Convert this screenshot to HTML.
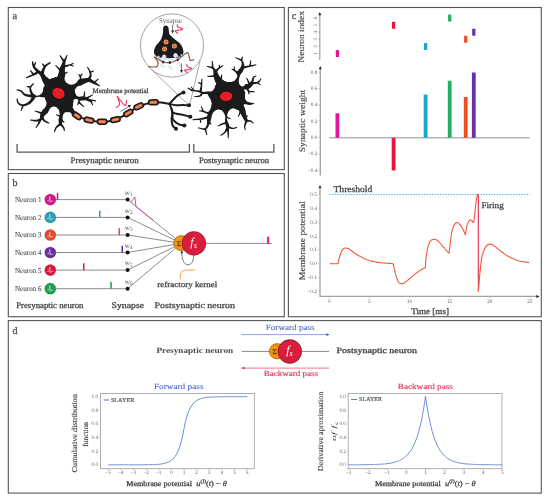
<!DOCTYPE html>
<html><head><meta charset="utf-8"><title>Spiking neuron figure</title>
<style>
html,body{margin:0;padding:0;background:#fff}
svg{display:block;font-family:"Liberation Serif",serif;filter:blur(0.35px);text-rendering:geometricPrecision}
</style></head><body>
<svg width="550" height="501" viewBox="0 0 550 501">
<rect width="550" height="501" fill="#fff"/>
<g id="pa"><rect x="8.3" y="7.5" width="276" height="162.1" fill="#fff" stroke="#555" stroke-width="1.1"/><text x="12.4" y="18.9" font-size="10.4" fill="#4a4a4a" stroke="#4a4a4a" stroke-width="0.28">a</text><path d="M152,70L189.2,105.6M200.2,60.5L189.9,104" stroke="#555" stroke-width="0.5" fill="none"/><path d="M72,111L72.4,111.5 73,112.2 73.7,113.1 74.6,114 75.6,114.9 76.9,115.7 78.5,116.5 80.4,117.3 82.4,118.1 84.6,118.9 86.8,119.5 89,120.1 91.1,120.6 93.3,121 95.5,121.3 97.7,121.5 99.9,121.7 102.1,121.7 104.3,121.6 106.5,121.4 108.8,121.2 111,120.8 113.2,120.3 115.4,119.6 117.6,118.8 119.8,117.7 122,116.6 124.2,115.4 126.3,114.2 128.3,113 130.1,111.9 131.8,110.7 133.4,109.5 135,108.4 136.7,107.4 138.7,106.4 141,105.5 143.5,104.7 146.1,103.9 148.7,103.2 151.2,102.7 153.4,102.3 155.3,102.1 157,102.1 158.6,102.2 160.1,102.4 161.6,102.6 163,102.8 164.5,103 166,103.3 167.5,103.5 168.8,103.8 170,104 170.8,104.2" fill="none" stroke="#1c1a1b" stroke-width="2"/><g transform="translate(76.9 115.7) rotate(35)"><rect x="-4.8" y="-2.45" width="9.6" height="4.9" rx="2.4" fill="#d2643a" stroke="#1c1a1b" stroke-width="1.5"/><rect x="-3.2" y="-0.7" width="6.4" height="1.4" rx="0.7" fill="#ee966c"/></g><g transform="translate(89 120.1) rotate(12)"><rect x="-4.8" y="-2.45" width="9.6" height="4.9" rx="2.4" fill="#d2643a" stroke="#1c1a1b" stroke-width="1.5"/><rect x="-3.2" y="-0.7" width="6.4" height="1.4" rx="0.7" fill="#ee966c"/></g><g transform="translate(102.1 121.7) rotate(0)"><rect x="-4.8" y="-2.45" width="9.6" height="4.9" rx="2.4" fill="#d2643a" stroke="#1c1a1b" stroke-width="1.5"/><rect x="-3.2" y="-0.7" width="6.4" height="1.4" rx="0.7" fill="#ee966c"/></g><g transform="translate(115.4 119.6) rotate(-12)"><rect x="-4.8" y="-2.45" width="9.6" height="4.9" rx="2.4" fill="#d2643a" stroke="#1c1a1b" stroke-width="1.5"/><rect x="-3.2" y="-0.7" width="6.4" height="1.4" rx="0.7" fill="#ee966c"/></g><g transform="translate(128.3 113) rotate(-30)"><rect x="-4.8" y="-2.45" width="9.6" height="4.9" rx="2.4" fill="#d2643a" stroke="#1c1a1b" stroke-width="1.5"/><rect x="-3.2" y="-0.7" width="6.4" height="1.4" rx="0.7" fill="#ee966c"/></g><g transform="translate(138.7 106.4) rotate(-25)"><rect x="-4.8" y="-2.45" width="9.6" height="4.9" rx="2.4" fill="#d2643a" stroke="#1c1a1b" stroke-width="1.5"/><rect x="-3.2" y="-0.7" width="6.4" height="1.4" rx="0.7" fill="#ee966c"/></g><g transform="translate(153.4 102.3) rotate(-2)"><rect x="-4.8" y="-2.45" width="9.6" height="4.9" rx="2.4" fill="#d2643a" stroke="#1c1a1b" stroke-width="1.5"/><rect x="-3.2" y="-0.7" width="6.4" height="1.4" rx="0.7" fill="#ee966c"/></g><path d="M169.5,103.8L169.8,103.5 170.2,103 170.7,102.4 171.3,101.8 171.9,101.2 172.5,100.5 173.2,99.8 173.9,99 174.7,98.2 175.5,97.4 176.2,96.7 177,96 177.7,95.4 178.5,94.9 179.2,94.5 180,94.1 180.6,93.7 181.2,93.4 181.7,93.1 182.2,92.9 182.6,92.8 183,92.7 183.3,92.6 183.5,92.5" fill="none" stroke="#1c1a1b" stroke-width="2" stroke-linecap="round"/><circle cx="183.5" cy="92.5" r="2" fill="#1c1a1b"/><path d="M170.4,104L171,104.1 171.8,104.4 172.8,104.6 173.9,104.9 174.9,105.1 176,105.2 177,105.3 178.1,105.3 179.2,105.2 180.3,105.2 181.4,105.1 182.5,105.1 183.7,105.1 184.9,105.2 186.2,105.2 187.3,105.2 188.3,105.3 189,105.3" fill="none" stroke="#1c1a1b" stroke-width="2" stroke-linecap="round"/><circle cx="189" cy="105.3" r="2" fill="#1c1a1b"/><path d="M169.5,104L169.7,104.6 170.1,105.3 170.4,106.3 170.8,107.2 171.2,108.2 171.6,109 171.8,109.7 172,110.4 172.1,111.1 172.3,111.7 172.7,112.3 173.4,112.8 174.5,113.2 175.9,113.6 177.6,113.9 179.3,114.2 181,114.5 182.5,114.8 184,115.1 185.5,115.5 187,115.9 188.3,116.2 189.5,116.5 190.3,116.7" fill="none" stroke="#1c1a1b" stroke-width="2" stroke-linecap="round"/><circle cx="190.3" cy="116.7" r="2" fill="#1c1a1b"/><path d="M171.6,109L171.7,109.7 171.8,110.6 172,111.7 172.1,112.9 172.3,114 172.4,115 172.5,115.8 172.5,116.6 172.4,117.4 172.5,118.1 172.6,118.8 173,119.5 173.6,120.3 174.3,121 175.1,121.8 176.1,122.6 177,123.2 178,123.8 179.1,124.3 180.3,124.7 181.5,125 182.7,125.2 183.7,125.4 184.4,125.6" fill="none" stroke="#1c1a1b" stroke-width="2" stroke-linecap="round"/><circle cx="184.4" cy="125.6" r="2" fill="#1c1a1b"/><path d="M172.4,115L172.3,115.5 172.1,116.1 171.9,116.9 171.7,117.7 171.6,118.6 171.6,119.5 171.7,120.5 171.8,121.6 171.9,122.8 172.2,123.9 172.5,124.9 172.8,125.8 173.3,126.5 173.8,127.1 174.5,127.6 175.1,128.1 175.6,128.4 176,128.7" fill="none" stroke="#1c1a1b" stroke-width="2" stroke-linecap="round"/><circle cx="176" cy="128.7" r="2" fill="#1c1a1b"/><path d="M51.7,78L52.4,77.6 53.1,77.4 53.8,77.2 54.5,77.1 55.2,77 56,77 56.9,77 57.8,77 58.7,77.1 59.7,77.2 60.6,77.3 61.5,77.5 62.3,77.7 63.1,77.8 63.8,78 64.5,78.2 65.2,78.5 66,79 66.8,79.7 67.7,80.5 68.7,81.4 69.5,82.4 70.3,83.2 71,84 71.5,84.6 71.9,85.1 72.2,85.5 72.4,85.9 72.7,86.4 73,87 73.4,87.7 73.9,88.6 74.3,89.4 74.8,90.3 75.1,91.2 75.3,92 75.3,92.7 75.3,93.4 75.1,94 74.9,94.6 74.7,95.3 74.5,96 74.3,96.8 74.2,97.6 74,98.5 73.8,99.3 73.6,100.2 73.5,101 73.4,101.8 73.3,102.6 73.3,103.4 73.2,104.3 73.1,105 73,105.8 72.8,106.6 72.6,107.3 72.4,108 72.1,108.7 71.8,109.4 71.4,110 70.9,110.5 70.3,111.1 69.7,111.5 69.1,111.9 68.5,112.3 68,112.5 67.6,112.6 67.3,112.7 67,112.7 66.7,112.6 66.4,112.5 66,112.4 65.5,112.3 65,112.1 64.5,112 63.9,111.8 63.3,111.5 62.6,111.3 61.9,111 61.1,110.8 60.3,110.5 59.5,110.2 58.7,109.8 58,109.5 57.3,109.1 56.6,108.6 56,108.1 55.3,107.6 54.7,107.3 54,107 53.3,106.9 52.6,107 51.9,107.1 51.2,107.3 50.5,107.4 50,107.5 49.6,107.5 49.3,107.5 49.1,107.5 48.9,107.4 48.7,107.2 48.4,106.9 48.1,106.4 47.7,105.8 47.3,105 46.9,104.2 46.5,103.3 46.2,102.5 45.9,101.6 45.6,100.7 45.3,99.7 45,98.7 44.8,97.8 44.5,97 44.2,96.3 43.9,95.7 43.6,95.2 43.4,94.7 43.2,94.1 43,93.5 42.9,92.8 42.8,92.1 42.8,91.3 42.8,90.5 42.9,89.7 43,89 43.2,88.3 43.5,87.6 43.9,86.9 44.3,86.2 44.6,85.6 45,85 45.3,84.5 45.6,84 45.8,83.5 46.1,83 46.5,82.5 47,82 47.6,81.4 48.4,80.6 49.2,79.9 50.1,79.1 50.9,78.5ZM49.2,90L48.7,89.4 47.8,88.7 46.8,87.6 45.6,86.3 44.4,84.8 43.5,83.2 42.6,81.4 41.9,79.7 41.3,78.2 40.9,77 40.5,76.3 40.3,75.9 40.2,75.6 40.2,75.5 40.1,75.3 43.5,72.9 43.6,73 43.8,73.1 44,73.4 44.4,73.7 44.9,74.4 45.8,75.3 46.9,76.6 48.1,77.9 49.2,79 50.2,79.8 51,80.3 52,80.7 53,81.2 54,81.6 54.8,82ZM56.1,81.5L56.3,80.9 56.6,79.9 56.9,78.8 57.2,77.6 57.5,76.5 57.8,75.3 58.2,74 58.5,72.6 58.9,71.2 59.3,69.7 59.8,68.3 60.4,66.8 61.1,65.4 61.6,64.2 62.1,63.2 62.4,62.5 62.7,61.9 62.8,61.5 63,61.3 63.1,61 65.5,61.8 65.5,62 65.5,62.3 65.4,62.7 65.4,63.2 65.3,64 65.2,65.1 65.1,66.5 65,67.9 64.9,69.4 64.9,70.7 65,71.9 65.1,73.2 65.2,74.5 65.4,75.8 65.5,77.1 65.6,78.4 65.6,79.7 65.7,80.8 65.8,81.8 65.9,82.5ZM50.8,96L49.9,96.2 48.8,96.4 47.3,96.7 45.8,97 44.1,97.3 42.2,97.6 40,97.9 37.9,98.1 36,98.4 34.7,98.5 33.5,94.5 34.7,93.9 36.4,93.1 38.3,92.1 40.1,91.1 41.7,90.3 43,89.5 44.3,88.7 45.5,88 46.5,87.4 47.2,87ZM56.5,105.4L55.8,106 54.7,106.8 53.5,107.7 52.3,108.6 51.3,109.4 50.5,110.1 49.7,110.8 49,111.5 48.2,112.3 47.5,113.1 46.7,113.8 45.9,114.5 45.2,115.1 44.7,115.6 44.3,116 44,116.5 43.8,117.1 43.6,117.8 43.5,118.6 43.4,119.1 40.2,118.9 40.2,118.4 40.1,117.7 40,116.7 40,115.6 40.3,114.4 40.7,113.2 41.2,112.2 41.8,111.3 42.3,110.4 42.7,109.5 43.2,108.6 43.7,107.7 44.2,106.7 44.8,105.6 45.5,104.4 46.3,103.2 47.3,101.8 48.2,100.5 48.9,99.4 49.5,98.6ZM66.8,104.3L66.8,105.2 66.8,106.4 66.7,108 66.6,109.8 66.4,111.6 65.9,113.3 65.3,114.8 64.6,116.1 64,117.3 63.5,118.3 63.1,119.6 62.7,121 62.3,122.5 62,123.7 61.8,124.6 59,124.4 58.9,123.5 58.7,122.2 58.6,120.7 58.5,119.1 58.5,117.5 58.6,115.9 58.7,114.4 58.9,113 58.9,111.9 58.8,111 58.6,110.1 58.2,108.9 57.8,107.7 57.4,106.5 57.2,105.7ZM62.6,87L63.3,86.5 64.3,85.8 65.7,84.9 67.3,83.9 69.1,83 70.9,82.2 72.9,81.4 75,80.6 77.1,79.9 79,79.4 80.8,78.9 82.7,78.5 84.5,78.2 86.2,78 87.8,77.9 89.2,78.1 90.4,78.5 91.3,79.1 92.1,79.7 93,80.3 94.4,81.3 96.1,82.5 97.7,83.8 99.2,84.9 100.2,85.7 99.8,86.5 98.6,86 96.9,85.2 95,84.4 93.1,83.7 91.6,83.1 90.4,82.6 89.6,82.3 89.1,82.1 88.7,82.1 88,82.3 87,82.5 85.8,83 84.4,83.7 82.9,84.4 81.4,85.2 79.8,86.1 78.2,87.2 76.5,88.3 75,89.4 73.7,90.4 72.7,91.4 71.8,92.4 70.9,93.4 70.1,94.3 69.4,95ZM67.9,90.5L68.7,90.8 70,91.2 71.4,91.7 73,92.3 74.5,92.9 75.9,93.5 77.3,94.2 78.6,94.8 79.7,95.4 80.7,95.9 81.6,96.2 82.5,96.3 83.6,96.5 84.9,96.7 86.2,97.1 87.5,97.7 88.8,98.6 90,99.4 90.9,100.1 91.6,100.6 90.8,102.2 90,101.9 88.8,101.4 87.6,100.9 86.3,100.5 85.2,100.3 84.4,100.3 83.5,100.4 82.4,100.5 81.2,100.6 79.7,100.5 78.2,100.3 76.7,100 75.3,99.6 73.9,99.3 72.7,99.1 71.4,99 69.8,98.8 68.4,98.7 67.1,98.6 66.1,98.5ZM68.4,100L69.1,101.2 70.1,103 71.3,105 72.4,106.9 73.3,108.5 74,109.7 74.6,110.7 75.1,111.6 75.5,112.2 75.8,112.7 73.2,114.9 72.8,114.5 72.2,114 71.4,113.4 70.5,112.7 69.5,111.9 68,110.8 66.2,109.5 64.4,108.1 62.8,106.8 61.6,106Z" fill="#1c1a1b"/><ellipse cx="51.1" cy="71.6" rx="7.5" ry="6.6" transform="rotate(0 51.1 71.6)" fill="#fff"/><ellipse cx="36.9" cy="88.9" rx="6.3" ry="6.9" transform="rotate(0 36.9 88.9)" fill="#fff"/><ellipse cx="39" cy="103.6" rx="7.5" ry="6.9" transform="rotate(0 39 103.6)" fill="#fff"/><ellipse cx="53.9" cy="114" rx="5.8" ry="7.5" transform="rotate(0 53.9 114)" fill="#fff"/><ellipse cx="66.5" cy="117.9" rx="4" ry="5.8" transform="rotate(0 66.5 117.9)" fill="#fff"/><ellipse cx="76.4" cy="104.2" rx="2.9" ry="5.1" transform="rotate(0 76.4 104.2)" fill="#fff"/><ellipse cx="79.4" cy="91.3" rx="4.3" ry="5.5" transform="rotate(0 79.4 91.3)" fill="#fff"/><ellipse cx="71.4" cy="78.4" rx="6.9" ry="6.3" transform="rotate(0 71.4 78.4)" fill="#fff"/><path d="M40.5,74.4L40.6,74 40.8,73.3 40.9,72.4 41.2,71.4 41.6,70.3 42,69.3 42.6,68.3 43.2,67.2 44,66.1 44.9,65.1 46,64.2 47.2,63.5 48.5,62.8 49.5,62.3 50.3,61.9 50.9,63.1 50.2,63.5 49.2,64.2 48.1,64.9 47.1,65.7 46.3,66.5 45.8,67.3 45.3,68.3 44.9,69.3 44.5,70.4 44.2,71.3 44.1,72 44,72.8 44,73.6 44.1,74.2 44.1,74.8ZM44.1,67.5L43,65.7 41.9,63.9 42.7,63.3 44.2,64.8 45.7,66.3ZM40.7,75.7L40.2,75.2 39.3,74.5 38.4,73.6 37.4,72.7 36.5,71.8 35.6,70.9 34.8,70 34,69 33.3,67.9 32.7,66.8 32.3,65.6 32.1,64.4 32,63.2 31.9,62.2 31.8,61.5 33.2,61.3 33.3,62 33.5,63 33.7,64 34.1,65.1 34.5,66 35,66.7 35.8,67.5 36.6,68.3 37.5,69.1 38.3,69.8 39.2,70.4 40.3,71.1 41.3,71.7 42.2,72.2 42.9,72.5ZM33,66.3L34.2,64.1 35.4,61.8 36.2,62.2 35.5,64.6 34.8,67.1ZM38.8,73.1L38.2,73.4 37.4,73.8 36.4,74.4 35.3,74.9 34.1,75.5 32.5,76.1 30.7,76.8 28.9,77.5 27.2,78 26.1,78.4 25.7,77.4 26.8,76.9 28.3,76.1 30.1,75.3 31.8,74.4 33.1,73.7 34.2,73 35.2,72.3 36,71.7 36.7,71.1 37.2,70.7ZM32.9,75.2L31.4,72.9 29.9,70.7 30.7,70.1 32.5,72.1 34.3,74ZM63.3,62.5L61.4,59 59.5,55.7 60.3,55.1 62.8,58.2 65.3,61.1ZM63.2,61.3L65,58 66.8,54.7 67.6,55.1 66.5,58.7 65.4,62.3ZM60.4,72.1L57.8,68.8 55.2,65.6 55.8,65 59,67.7 62.2,70.3ZM63.2,65.4L64.2,65.3 65.7,65 67.3,64.7 68.9,64.4 70.2,64.1 71.1,63.8 71.8,63.5 72.5,63.1 73,62.9 73.4,62.7 73.8,63.5 73.5,63.7 73,64.1 72.4,64.5 71.6,64.9 70.6,65.3 69.4,65.8 67.8,66.4 66.2,66.9 64.8,67.4 63.8,67.8ZM70.8,63.9L72.3,65 73.8,66 73.4,66.8 71.7,66.1 70,65.5ZM62.2,73.9L64.8,72.7 67.3,71.5 67.9,72.3 65.6,74.1 63.4,75.9ZM34.2,97.6L33.8,97.3 33.2,96.9 32.4,96.3 31.5,95.5 30.8,94.4 30.3,93.3 29.9,91.9 29.5,90.5 29.4,89 29.5,87.6 30,86.4 30.9,85.3 31.8,84.3 32.6,83.5 33.2,83 34,83.8 33.5,84.4 32.8,85.2 32,86.2 31.4,87.1 31.1,88 31.2,88.9 31.5,90 31.9,91.2 32.5,92.3 33,93.2 33.4,93.7 34,94.1 34.7,94.4 35.3,94.7 35.8,95ZM30.1,88.1L28.5,87.5 26.9,86.9 27.1,85.9 28.8,86.1 30.5,86.3ZM34.3,98.1L33,97.8 31.1,97.5 28.9,97 26.8,96.5 25,95.9 23.6,95 22.6,94 21.9,93 21.2,92.2 20.6,91.7 19.8,91.3 18.9,91 17.9,90.8 17.1,90.6 16.5,90.5 16.7,89.3 17.3,89.4 18.1,89.5 19.2,89.6 20.3,89.9 21.4,90.3 22.4,91 23.2,91.9 24,92.7 24.8,93.4 25.8,93.9 27.3,94.3 29.3,94.5 31.5,94.7 33.4,94.8 34.7,94.9ZM35.4,97.8L34.8,98.5 34,99.7 33,101 31.8,102.4 30.5,103.5 29.2,104.4 27.7,105.1 26.2,105.7 24.7,106.1 23.2,106.3 21.9,106.1 20.6,105.7 19.4,105.1 18.4,104.4 17.6,103.6 17.1,102.6 16.8,101.4 16.6,100.3 16.6,99.4 16.5,98.8 17.7,98.6 17.8,99.3 17.9,100.2 18.1,101.1 18.4,102 18.8,102.6 19.4,103.1 20.3,103.7 21.2,104.1 22.2,104.3 23.2,104.3 24.2,104.1 25.4,103.7 26.7,103 27.9,102.3 28.9,101.5 29.8,100.6 30.6,99.3 31.4,98 32.1,96.7 32.6,95.8ZM24.1,105.7L22.8,108.3 21.4,111 20.6,110.6 21.4,107.8 22.3,104.9ZM42.8,115L38.7,113.1 34.5,111.2 34.9,110.4 39.2,111.5 43.6,112.6ZM42.5,119.8L41.9,120.1 41.1,120.5 40.1,120.9 38.9,121.4 37.5,121.6 36,121.6 34.3,121.4 32.7,121.1 31.2,120.8 30.2,120.7 30.4,119.5 31.4,119.6 32.8,119.7 34.5,119.7 36.1,119.7 37.3,119.6 38.2,119.3 39.1,118.8 39.9,118.3 40.6,117.8 41.1,117.4ZM41.3,120.6L41,121 40.7,121.7 40.2,122.6 39.7,123.5 39.2,124.3 38.6,125.1 37.9,126 37.2,126.9 36.6,127.6 36.2,128.1 35.4,127.5 35.8,127 36.3,126.2 36.8,125.3 37.4,124.3 37.8,123.5 38.1,122.7 38.4,121.8 38.7,120.9 38.9,120.2 39.1,119.6ZM43.1,117.2L43.4,117.7 43.9,118.4 44.4,119.2 45,119.9 45.6,120.5 46.3,121.1 47.3,121.6 48.2,122.2 49.1,122.6 49.7,123 49.3,123.8 48.7,123.6 47.7,123.3 46.7,122.9 45.6,122.4 44.6,121.9 43.7,121.2 42.9,120.5 42.2,119.8 41.6,119.2 41.1,118.8ZM61.3,125.1L60.5,125.5 59.6,126.1 58.5,126.8 57.5,127.6 56.7,128.3 56.2,129 55.8,129.9 55.4,130.8 55.1,131.7 54.9,132.2 53.9,132 54.1,131.4 54.3,130.5 54.5,129.5 54.9,128.4 55.5,127.3 56.2,126.3 57.2,125.3 58.2,124.3 59,123.5 59.5,122.9ZM61.4,123.1L61.8,123.7 62.4,124.5 63.1,125.5 63.8,126.5 64.4,127.4 64.7,128.3 64.8,129.2 64.8,130 64.8,130.6 64.8,131.1 63.8,131.1 63.8,130.7 63.7,130.1 63.5,129.4 63.3,128.7 63,128.2 62.5,127.5 61.7,126.8 60.8,126 60,125.4 59.4,124.9ZM60.8,117.5L58.4,116.2 55.9,115 56.3,114.2 58.9,114.9 61.6,115.5ZM61.9,119.3L63.2,120.6 64.6,121.9 64,122.7 62.4,121.7 60.7,120.7ZM80,82.2L80,81.5 79.9,80.4 79.8,79.1 79.7,78 79.5,77 79.3,76.3 79,75.7 78.7,75.2 78.4,74.7 78.2,74.4 79,73.8 79.2,74.1 79.6,74.5 80,75.1 80.5,75.8 80.9,76.6 81.3,77.6 81.6,78.8 82,80 82.3,81 82.6,81.8ZM79.5,75.7L80.8,74.6 82,73.4 82.8,74 81.8,75.4 80.9,76.9ZM86.5,79.6L87.1,79 87.8,78.1 88.6,77.2 89.3,76.3 89.6,75.5 89.7,74.8 89.6,73.9 89.4,73 89.1,72 88.8,71.1 88.5,70.2 88.1,69.3 87.6,68.4 87.2,67.7 86.9,67.1 87.7,66.7 88,67.1 88.5,67.8 89.1,68.7 89.7,69.6 90.2,70.5 90.6,71.5 91,72.4 91.4,73.5 91.6,74.7 91.6,75.9 91.2,77.2 90.6,78.4 89.8,79.6 89.2,80.6 88.9,81.2ZM89.8,71.6L91.8,71 93.7,70.4 94.1,71.2 92.2,72.2 90.4,73.2ZM93.1,82.2L95.6,80.4 98,78.6 98.6,79.4 96.4,81.5 94.3,83.6ZM83,98.6L83.6,95.1 84.1,91.6 85.1,91.6 85.1,95.2 85.2,98.8ZM85.6,97.5L89.1,96 92.6,94.5 93,95.3 89.8,97.3 86.6,99.3ZM87.8,98.8L92,99.6 96.2,100.4 96,101.4 91.8,101 87.6,100.6ZM91.8,100.9L92.5,103 93.2,105.1 92.4,105.5 91.3,103.5 90.2,101.5ZM81,99.2L79.4,102.3 77.9,105.5 77.1,105.1 78,101.8 78.8,98.4ZM79.7,101.8L82,104.2 84.4,106.5 83.8,107.3 81.2,105.2 78.5,103.2Z" fill="#1c1a1b"/><ellipse cx="58.5" cy="93.3" rx="6.2" ry="5.2" transform="rotate(25 58.5 93.3)" fill="#e81c24"/><path d="M217,80L217.6,79.6 218.3,79.4 219.1,79.3 220,79.3 221,79.4 222,79.5 223.1,79.8 224.3,80.2 225.6,80.8 226.9,81.3 228.1,81.8 229.3,82 230.4,82 231.4,81.9 232.3,81.6 233.2,81.4 234.1,81.1 235,81 235.8,81 236.7,80.9 237.5,80.9 238.2,81 238.9,81.2 239.5,81.5 240,82 240.3,82.6 240.6,83.4 240.8,84.2 241.1,85.1 241.5,86 242,86.9 242.7,88 243.4,89 244,90.1 244.6,91.1 245,92 245.2,92.8 245.3,93.4 245.3,94 245.2,94.6 245.2,95.3 245.2,96 245.3,96.8 245.4,97.8 245.5,98.8 245.6,99.7 245.6,100.7 245.5,101.5 245.3,102.3 245,103 244.7,103.6 244.3,104.3 244,104.9 243.6,105.5 243.3,106.1 242.9,106.7 242.6,107.2 242.2,107.7 241.8,108.2 241.4,108.6 240.9,109 240.4,109.3 239.8,109.5 239.2,109.8 238.6,109.9 238,110 237.3,110 236.6,109.8 235.9,109.6 235.2,109.4 234.5,109.2 233.8,109.2 233.1,109.3 232.5,109.5 231.9,109.7 231.3,110 230.6,110.2 230,110.5 229.3,110.8 228.7,111.1 228,111.4 227.3,111.7 226.7,111.9 226,112 225.3,111.9 224.7,111.7 224,111.4 223.3,111.1 222.6,110.7 222,110.5 221.4,110.3 220.8,110.1 220.2,110 219.6,109.9 219,109.8 218.4,109.7 217.8,109.7 217.2,109.8 216.6,109.9 216,110 215.5,110 215,110 214.6,109.9 214.2,109.8 213.8,109.7 213.5,109.4 213.2,109.1 212.9,108.6 212.7,107.9 212.5,107.1 212.3,106.2 212.1,105.2 211.9,104.2 211.6,103.2 211.2,102.2 210.8,101.1 210.3,100 209.8,98.9 209.4,97.9 209,97 208.6,96.2 208.2,95.4 207.8,94.8 207.5,94.1 207.4,93.5 207.4,92.8 207.7,92.1 208.2,91.5 208.8,90.9 209.5,90.3 210.3,89.6 211,89 211.7,88.4 212.6,87.8 213.4,87.1 214.3,86.5 215,85.8 215.6,85.1 216,84.3 216.2,83.3 216.3,82.3 216.4,81.4 216.6,80.6ZM217.8,87.5L217.3,86.5 216.7,85 215.9,83.3 215.1,81.6 214.5,80 214.1,78.5 213.8,77.2 213.6,76 213.5,75 213.4,74.2 213.4,73.3 213.3,72.5 213.4,71.9 213.4,71.4 213.4,71 216.8,70.6 216.9,70.9 217.1,71.4 217.2,71.9 217.5,72.4 217.8,73 218.1,73.8 218.5,74.6 219,75.4 219.5,76.2 220.1,77 221,78 222.1,79.3 223.3,80.5 224.5,81.7 225.2,82.5ZM228.8,83.8L229.5,83.2 230.4,82.4 231.4,81.6 232.3,80.8 232.9,80.1 233.5,79.3 234.1,78 234.7,76.4 235.3,74.7 236.1,73 237,71.6 238,70.4 238.9,69.4 239.7,68.5 240.3,67.8 240.7,67.1 241.1,66.2 241.4,65.4 241.7,64.6 241.9,64 244.3,64.6 244.3,65.1 244.3,65.9 244.2,67 244,68.1 243.7,69.4 243.2,70.7 242.6,71.9 242.1,73 241.6,74.1 241.3,75.2 241.1,76.4 241,77.9 240.9,79.6 240.6,81.5 240.1,83.5 239.2,85.4 238.3,87 237.3,88.4 236.6,89.5 236.2,90.2ZM234,84.5L234.8,84.2 235.9,83.9 237.4,83.4 239,83 240.8,82.7 242.7,82.8 244.2,83.2 245.4,83.6 246.2,83.9 246.7,84 247.1,84.1 247.5,84.1 247.9,84 248.3,83.8 248.8,83.6 249.2,83.3 249.8,82.8 250.3,82.1 250.8,81.5 251.2,81.1 253.6,82.5 253.4,83 253.1,83.8 252.8,84.7 252.3,85.7 251.6,86.6 251,87.3 250.2,87.9 249.4,88.5 248.4,89 247.1,89.4 245.7,89.5 244.3,89.5 243.2,89.4 242.4,89.5 242,89.7 241.4,90.1 240.6,90.7 239.6,91.4 238.7,92 238,92.5ZM241.4,96.4L242.1,97 243.2,97.7 244.4,98.6 245.6,99.4 246.6,100.1 247.5,100.7 248.3,101.3 249.1,101.8 249.7,102.2 250.4,102.5 251.1,102.7 251.9,102.8 252.7,102.9 253.5,102.9 254,103 254.2,103.8 253.7,104 252.9,104.3 252.1,104.6 251.1,104.8 250,104.9 249,104.9 248,104.7 247,104.5 246,104.3 245,104.1 243.7,103.8 242.2,103.4 240.7,103.1 239.5,102.8 238.6,102.6ZM239.1,99.8L239.8,100.6 240.8,101.9 242,103.4 243.1,105 244.2,106.7 244.9,108.3 245.3,109.7 245.6,111 245.7,112.2 245.9,113.2 246.2,114.4 246.5,115.7 246.8,116.9 247.1,118 247.3,119 247.5,119.6 247.7,120.2 247.8,120.6 247.9,120.9 248,121.2 245.8,122.4 245.6,122.2 245.4,121.9 245.1,121.5 244.7,120.9 244.3,120.2 243.8,119.4 243.2,118.4 242.6,117.2 241.9,116.1 241.3,115 240.7,113.8 240.2,112.8 239.7,111.9 239.2,111.1 238.6,110.5 237.7,109.8 236.5,108.8 235.1,107.8 233.8,106.9 232.9,106.2ZM230.9,105L230.7,105.9 230.5,107.2 230.3,108.7 230.1,110.2 229.9,111.6 229.8,113 229.8,114.5 229.8,116 229.7,117.7 229.7,119.3 229.6,121.1 229.5,122.9 229.3,124.6 229.2,126.1 229.1,127.2 226.3,127.4 226,126.4 225.7,124.9 225.3,123.2 224.9,121.5 224.5,119.9 224.1,118.4 223.6,116.9 223.1,115.4 222.7,113.8 222.3,112.2 222,110.5 221.7,108.8 221.5,107.2 221.3,105.9 221.1,105ZM220.6,105.7L219.9,106.4 218.9,107.4 217.8,108.5 216.8,109.6 216,110.4 215.4,111.2 214.8,112 214.4,112.8 213.9,113.7 213.4,114.6 212.9,115.5 212.4,116.4 212,117.2 211.6,118.1 211.2,118.9 210.9,119.9 210.6,121.1 210.3,122.3 210.1,123.4 209.9,124.1 207.1,123.9 207,123.1 207,122 206.9,120.7 206.9,119.4 207,118.1 207.1,116.9 207.3,115.8 207.5,114.7 207.8,113.6 208,112.6 208.3,111.6 208.5,110.5 208.9,109.3 209.3,108.1 209.8,106.8 210.6,105.3 211.4,103.8 212.2,102.3 212.9,101.1 213.4,100.3Z" fill="#1c1a1b"/><ellipse cx="209.3" cy="84.5" rx="6" ry="7.5" transform="rotate(0 209.3 84.5)" fill="#fff"/><ellipse cx="229.3" cy="75.8" rx="8" ry="6.3" transform="rotate(0 229.3 75.8)" fill="#fff"/><ellipse cx="243.4" cy="78.8" rx="4.3" ry="7.8" transform="rotate(15 243.4 78.8)" fill="#fff"/><ellipse cx="248.8" cy="96.5" rx="3.8" ry="5.8" transform="rotate(0 248.8 96.5)" fill="#fff"/><ellipse cx="233.2" cy="117.4" rx="6.3" ry="9.2" transform="rotate(0 233.2 117.4)" fill="#fff"/><ellipse cx="218.4" cy="118" rx="6.9" ry="8.6" transform="rotate(0 218.4 118)" fill="#fff"/><ellipse cx="206.3" cy="104.3" rx="5.2" ry="8.1" transform="rotate(0 206.3 104.3)" fill="#fff"/><path d="M213.8,71.9L213.7,71.4 213.4,70.7 213.2,70 212.8,69.4 212.4,69 211.5,68.5 210.3,68 208.9,67.5 207.7,67.1 206.8,66.9 207,65.9 207.9,66.1 209.2,66.3 210.7,66.5 212.1,66.8 213.4,67.2 214.4,67.9 215.1,68.7 215.7,69.5 216.1,70.2 216.4,70.5ZM211.7,67.9L211.8,64.4 211.8,61 212.8,61 213.2,64.4 213.7,67.7ZM214.4,71.4L214.8,71 215.4,70.3 216.1,69.5 216.9,68.7 217.8,67.9 218.9,67.2 220.1,66.6 221.3,65.9 222.3,65.4 223.1,65 223.5,65.8 222.9,66.3 221.9,66.9 220.8,67.7 219.8,68.5 219,69.3 218.3,70 217.7,70.8 217.2,71.7 216.7,72.4 216.4,73ZM218.7,68.1L218.8,66.5 218.8,64.8 219.8,64.8 220,66.4 220.3,68.1ZM216.1,76.2L215.5,76.3 214.6,76.5 213.6,76.7 212.6,76.9 211.6,77 210.6,77 209.6,77 208.7,76.9 207.9,76.8 207.4,76.8 207.4,75.8 208,75.8 208.8,75.8 209.7,75.8 210.6,75.7 211.4,75.6 212.3,75.4 213.2,75.1 214.1,74.7 214.9,74.4 215.5,74.2ZM220,79.9L220.7,77.3 221.2,74.6 222.2,74.8 222.1,77.4 222.2,80.1ZM241.9,65.1L241.8,64.4 241.7,63.5 241.5,62.6 241.3,61.7 240.8,61 240,60.4 238.8,59.7 237.4,59.1 236.1,58.5 235.2,58.1 235.6,57.3 236.5,57.5 237.8,57.9 239.3,58.4 240.8,59 242,59.8 242.8,60.8 243.4,61.9 243.8,63 244.1,63.9 244.3,64.5ZM240.6,60.2L241.3,58.3 242,56.5 243,56.7 242.6,58.7 242.2,60.6ZM242,66.4L242.9,66.3 244.1,66.2 245.5,66 247,65.8 248.4,65.6 250,65.3 251.8,65 253.6,64.8 255.1,64.5 256.2,64.3 256.4,65.3 255.3,65.5 253.8,65.9 252.1,66.4 250.3,66.8 248.8,67.2 247.3,67.6 245.9,68 244.5,68.4 243.4,68.7 242.6,69ZM249.1,66.1L249.8,63.2 250.3,60.3 251.3,60.5 251,63.4 250.9,66.3ZM237.6,74.8L237.1,74.2 236.3,73.3 235.5,72.4 234.6,71.5 233.9,70.9 233.3,70.5 232.8,70.2 232.3,70 231.8,69.8 231.5,69.7 231.7,68.7 232.1,68.8 232.6,68.9 233.2,69.1 233.9,69.3 234.7,69.7 235.6,70.3 236.6,71.1 237.7,71.9 238.6,72.6 239.2,73ZM233.5,70.3L233.7,68.3 233.8,66.4 234.8,66.4 234.9,68.3 235.1,70.3ZM251.2,82L251.4,81.3 251.7,80.3 252,79.1 252.4,78 252.9,77 253.6,76.3 254.4,75.9 255.1,75.7 255.7,75.5 256.1,75.4 256.5,76.2 256.1,76.4 255.5,76.7 254.9,77 254.4,77.4 254.1,77.8 253.9,78.5 253.8,79.5 253.7,80.6 253.6,81.7 253.6,82.4ZM248.6,85.7L248.5,85 248.2,84 247.9,82.9 247.6,81.9 247.4,81 247.1,80.3 246.8,79.7 246.5,79.1 246.2,78.6 246,78.3 246.8,77.7 247,78.1 247.4,78.5 247.8,79.1 248.2,79.7 248.6,80.4 249.1,81.3 249.6,82.3 250,83.4 250.5,84.3 250.8,84.9ZM251.5,82.3L252.5,82.3 253.7,82.2 255.2,82.1 256.5,81.9 257.5,81.6 258.3,81.1 259.1,80.4 259.8,79.5 260.4,78.8 260.8,78.2 261.6,78.8 261.2,79.3 260.7,80.2 260.1,81.2 259.3,82.2 258.3,83 257,83.5 255.5,83.9 254,84.2 252.7,84.5 251.9,84.7ZM257.7,82L259.3,83.3 260.9,84.5 260.3,85.3 258.6,84.3 256.9,83.4ZM248.5,86.8L248.5,87.5 248.6,88.4 248.6,89.3 248.8,90 249.1,90.4 249.8,90.7 251,90.9 252.4,91.1 253.7,91.1 254.6,91.2 254.6,92.2 253.7,92.2 252.4,92.3 250.9,92.3 249.4,92.2 248.1,91.8 247.2,90.9 246.7,89.8 246.5,88.7 246.3,87.8 246.1,87.2ZM249.4,91L249.5,92.7 249.6,94.3 248.6,94.5 248.2,92.8 247.8,91.2ZM246.3,119.5L247,119.6 247.9,119.8 249,120 250.1,120.3 251.1,120.6 251.9,121.1 252.5,121.7 253.1,122.2 253.5,122.7 253.8,123 253.2,123.8 252.8,123.5 252.3,123 251.8,122.6 251.2,122.2 250.5,122 249.8,121.8 248.8,121.7 247.7,121.7 246.7,121.7 246.1,121.7ZM247.6,121.4L247.3,122.1 246.7,123.1 246.2,124.3 245.7,125.4 245.4,126.3 245.3,127.1 245.4,127.9 245.5,128.7 245.7,129.4 245.8,129.9 244.8,130.1 244.7,129.6 244.5,129 244.2,128.1 244,127.1 244,126.1 244.2,124.9 244.5,123.7 244.9,122.4 245.2,121.3 245.4,120.6ZM244.1,114.8L246.1,115.4 248.1,115.8 247.9,116.8 245.9,116.6 243.9,116.6ZM241.5,111.9L240,114.5 238.6,117.1 237.8,116.7 238.8,113.9 239.7,111.1ZM228.9,127.3L228.5,128 227.9,129.1 227.2,130.4 226.5,131.6 225.6,132.7 224.6,133.6 223.5,134.4 222.4,135 221.5,135.5 220.9,135.9 220.3,135.1 220.9,134.6 221.8,134 222.8,133.3 223.7,132.5 224.4,131.7 224.9,130.7 225.4,129.5 225.9,128.2 226.3,127.1 226.5,126.3ZM229,126.7L229,127.5 229,128.7 229,130.1 229,131.5 229,132.8 229,134 228.9,135.3 228.8,136.5 228.7,137.5 228.7,138.2 227.7,138.2 227.7,137.5 227.6,136.5 227.6,135.3 227.5,134 227.4,132.8 227.2,131.6 227,130.2 226.8,128.9 226.6,127.7 226.4,126.9ZM227.1,123.9L226.4,124 225.5,124.1 224.5,124.3 223.4,124.5 222.5,124.7 221.5,125 220.5,125.5 219.5,125.9 218.6,126.3 218,126.6 217.6,125.8 218.2,125.4 219,124.9 219.9,124.3 220.9,123.8 221.9,123.3 222.9,122.9 224,122.5 225.1,122.2 225.9,121.9 226.5,121.7ZM228,125.4L228.6,125.8 229.6,126.4 230.7,126.9 231.8,127.4 232.7,127.7 233.5,127.7 234.5,127.5 235.4,127.3 236.2,127 236.8,126.8 237.2,127.8 236.6,128 235.8,128.3 234.8,128.7 233.7,129 232.5,129.1 231.3,129 230,128.6 228.8,128.2 227.8,127.8 227,127.6ZM227.2,116.2L228.9,117.4 230.6,118.6 230.2,119.4 228.3,118.6 226.4,117.8ZM210.4,117.3L209.6,117.6 208.5,118 207.2,118.5 205.6,119 203.8,119.4 201.6,119.7 199.1,119.9 196.5,120 194.2,120.2 192.6,120.3 192.6,119.3 194.1,119.1 196.4,118.8 198.9,118.4 201.4,118 203.4,117.6 205,117.1 206.4,116.5 207.6,115.9 208.6,115.3 209.4,114.9ZM201.1,119.1L201.2,121 201.3,122.8 200.3,123 199.9,121.1 199.5,119.3ZM209.8,124.1L209.3,124.8 208.7,126 207.9,127.5 206.8,128.8 205.5,129.7 203.9,129.9 202.2,129.6 200.5,129.1 199,128.6 198,128.3 198.2,127.3 199.3,127.5 200.8,127.9 202.4,128.2 203.9,128.3 204.9,128.1 205.5,127.5 206.1,126.4 206.7,125.1 207.1,123.8 207.4,122.9ZM206.1,128.6L206.7,131.8 207.4,134.9 206.4,135.1 205.4,132.1 204.3,129.2ZM210.2,114.9L209.2,114.5 207.8,114.1 206.1,113.5 204.5,112.8 203.1,112 202.2,110.9 201.7,109.6 201.4,108.3 201.1,107.3 200.9,106.5 201.9,106.3 202.1,107 202.4,108 202.9,109.1 203.4,110.1 204.1,110.8 205.1,111.3 206.6,111.8 208.3,112.1 209.8,112.3 210.8,112.5ZM203.5,112.2L201.3,111.7 199.1,111.3 199.3,110.3 201.5,110.5 203.7,110.6ZM209.6,121.3L210.6,122.8 211.7,124.2 210.9,124.8 209.7,123.5 208.4,122.3ZM211.9,94.7L211.2,94.6 210.3,94.4 209.3,94.3 208.3,94.1 207.4,94 206.6,94 205.7,94 204.9,94 203.9,94 202.8,93.8 201.7,93.5 200.6,93.1 199.5,92.6 198.4,92.2 197.3,91.9 196.2,91.6 195,91.5 193.8,91.3 192.8,91.2 192.1,91.2 192.1,90 192.9,90.1 193.9,90.1 195.1,90.1 196.4,90.2 197.7,90.3 198.8,90.6 200,91 201.2,91.3 202.2,91.6 203.2,91.8 204,91.9 204.8,91.8 205.6,91.7 206.5,91.6 207.4,91.6 208.5,91.6 209.6,91.6 210.6,91.7 211.5,91.7 212.1,91.7ZM199,92.2L199.3,91.3 199.6,90.2 199.9,88.9 200.3,87.5 200.6,86.1 200.8,84.7 201,83 201.2,81.4 201.3,80.1 201.4,79.1 202.4,79.1 202.4,80.1 202.4,81.5 202.3,83.1 202.3,84.8 202.2,86.3 202.1,87.7 202,89.2 201.8,90.6 201.6,91.8 201.6,92.6ZM201,84.7L199.5,83.7 197.9,82.7 198.3,81.9 200,82.6 201.8,83.3ZM192,91.6L189.7,89.9 187.4,88.2 188,87.4 190.5,88.7 193,90ZM193.7,91.3L192.2,89.1 190.6,87 191.4,86.4 193.1,88.4 194.9,90.3ZM203.2,93.6L202.8,94 202.4,94.7 201.8,95.5 201,96.2 200,96.8 198.9,97.1 197.5,97.2 196.2,97.1 195.1,97.1 194.3,97.1 194.3,96.1 195.1,96.1 196.2,96 197.4,95.8 198.6,95.6 199.4,95.4 199.8,95 200.3,94.3 200.7,93.6 201,92.9 201.2,92.4Z" fill="#1c1a1b"/><ellipse cx="226.2" cy="96.4" rx="6.2" ry="4.6" transform="rotate(-5 226.2 96.4)" fill="#e81c24"/><text x="92.5" y="92.8" font-size="7" textLength="56" lengthAdjust="spacingAndGlyphs" fill="#444" stroke="#444" stroke-width="0.28">Membrane potential</text><path d="M116.3,107.5L116.6,107.3 116.9,107.1 117.4,106.8 117.8,106.5 118.3,106.1 118.6,105.8 118.9,105.5 119.1,105.2 119.3,104.8 119.5,104.5 119.6,104 119.6,103.5 119.5,102.9 119.3,102.1 119,101.3 118.7,100.5 118.4,99.7 118.2,99 118,98.4 117.7,97.7 117.4,97.1 117.2,96.6 117.1,96.3 117.1,96.2 117.3,96.4 117.6,96.8 118,97.4 118.5,98.1 119,98.8 119.6,99.5 120.2,100.3 121,101.2 121.7,102.1 122.5,103 123.2,103.8 123.8,104.4 124.3,104.8 124.6,105.2 124.9,105.4 125.2,105.5 125.4,105.6 125.6,105.5 125.8,105.3 125.9,104.9 126,104.5 126.1,104 126.1,103.5 126.2,103 126.3,102.6 126.4,102.1 126.4,101.6 126.5,101.2 126.6,100.9 126.6,100.6" fill="none" stroke="#f0305e" stroke-width="1.1" stroke-linejoin="round" stroke-linecap="round"/><path d="M120.6,111.5L128.6,106.7" stroke="#222" stroke-width="0.6"/><path d="M127.5,105.1H130.9L129.4,107.7Z" fill="#222"/><path d="M17.1,143.9V152.2H189.4V143.9M193.8,143.9V152.2H273.9V143.9" fill="none" stroke="#5a5a5a" stroke-width="1.3"/><text x="70.6" y="162.9" font-size="8.4" textLength="68" lengthAdjust="spacingAndGlyphs" fill="#444" stroke="#444" stroke-width="0.28">Presynaptic neuron</text><text x="198.9" y="162.9" font-size="8.4" textLength="70.2" lengthAdjust="spacingAndGlyphs" fill="#444" stroke="#444" stroke-width="0.28">Postsynaptic neuron</text><circle cx="172" cy="45.5" r="31.6" fill="#fff" stroke="#666" stroke-width="0.6"/><text x="158.9" y="23.4" font-size="7.4" textLength="23" lengthAdjust="spacingAndGlyphs" fill="#606060" stroke="none">Synapse</text><path d="M165.8,25.6L166.2,25.6 166.6,25.7 166.9,25.8 167.3,26 167.6,26.2 167.8,26.5 168,26.8 168.2,27.1 168.4,27.5 168.5,28 168.6,28.5 168.7,29.1 168.7,29.7 168.8,30.3 168.9,31 169,31.7 169.1,32.4 169.2,33.1 169.3,33.8 169.6,34.5 170,35.1 170.5,35.6 171.1,36.1 171.7,36.6 172.3,37.2 173,37.8 173.8,38.5 174.5,39.1 175.3,39.7 176,40.3 176.6,40.8 177.2,41.2 177.7,41.5 178.3,41.9 178.8,42.4 179.4,43 179.9,43.6 180.5,44.3 181,44.9 181.5,45.6 181.9,46.3 182.2,47 182.5,47.7 182.7,48.3 182.9,49 183.1,49.6 183.2,50.2 183.3,50.8 183.4,51.4 183.4,52 183.4,52.6 183.3,53.2 183.1,53.9 182.9,54.5 182.6,55 182.1,55.5 181.6,56 181,56.5 180.2,56.9 179.5,57.2 178.7,57.4 177.9,57.6 177,57.7 176,57.7 175,57.8 173.9,57.9 172.8,58 171.5,58.1 170.3,58.2 169,58.2 167.6,58.2 166.2,58.1 164.7,58 163.3,57.9 162,57.8 160.9,57.7 159.8,57.5 158.8,57.3 158,57.1 157.2,56.8 156.5,56.5 155.9,56 155.5,55.6 155,55.1 154.7,54.6 154.4,54 154.2,53.4 154.1,52.8 154,52.2 154,51.5 154,50.8 154.2,50.1 154.3,49.4 154.6,48.7 154.8,48 155.1,47.4 155.4,46.8 155.7,46.2 156.1,45.6 156.5,45 157,44.3 157.6,43.7 158.3,43 158.9,42.3 159.5,41.6 160,40.9 160.4,40.2 160.9,39.5 161.3,38.7 161.6,38 161.9,37.2 162.2,36.4 162.4,35.6 162.6,34.8 162.8,34 162.9,33.2 163,32.3 163,31.5 163.1,30.7 163.1,30 163.1,29.4 163.1,29 163.1,28.6 163.1,28.2 163.2,27.8 163.3,27.4 163.4,27.1 163.6,26.7 163.8,26.4 164,26.2 164.3,26 164.6,25.8 165,25.7 165.4,25.6Z" fill="#1c1a1b"/><circle cx="166" cy="42" r="2.5" fill="#f0a070"/><circle cx="166" cy="42" r="1.7" fill="#d8662e"/><circle cx="166" cy="42" r="0.7" fill="#b89080"/><circle cx="174.4" cy="46" r="2.5" fill="#f0a070"/><circle cx="174.4" cy="46" r="1.7" fill="#d8662e"/><circle cx="174.4" cy="46" r="0.7" fill="#b89080"/><circle cx="164.5" cy="49" r="2.5" fill="#f0a070"/><circle cx="164.5" cy="49" r="1.7" fill="#d8662e"/><circle cx="164.5" cy="49" r="0.7" fill="#b89080"/><circle cx="164.1" cy="56.6" r="1.9" fill="#eef3fa" stroke="#b8cde8" stroke-width="0.4"/><circle cx="175.5" cy="55.2" r="1.9" fill="#eef3fa" stroke="#b8cde8" stroke-width="0.4"/><circle cx="154.5" cy="55.5" r="0.9" fill="#dbe8f6" stroke="#a8c4e4" stroke-width="0.3"/><circle cx="156.5" cy="58" r="0.9" fill="#dbe8f6" stroke="#a8c4e4" stroke-width="0.3"/><circle cx="158.5" cy="56.6" r="0.9" fill="#dbe8f6" stroke="#a8c4e4" stroke-width="0.3"/><circle cx="160.8" cy="59.3" r="0.9" fill="#dbe8f6" stroke="#a8c4e4" stroke-width="0.3"/><circle cx="162.6" cy="57.4" r="0.9" fill="#dbe8f6" stroke="#a8c4e4" stroke-width="0.3"/><circle cx="164.6" cy="59.9" r="0.9" fill="#dbe8f6" stroke="#a8c4e4" stroke-width="0.3"/><circle cx="166.8" cy="58.6" r="0.9" fill="#dbe8f6" stroke="#a8c4e4" stroke-width="0.3"/><circle cx="168.8" cy="60.6" r="0.9" fill="#dbe8f6" stroke="#a8c4e4" stroke-width="0.3"/><circle cx="171" cy="59" r="0.9" fill="#dbe8f6" stroke="#a8c4e4" stroke-width="0.3"/><circle cx="173.3" cy="60.2" r="0.9" fill="#dbe8f6" stroke="#a8c4e4" stroke-width="0.3"/><circle cx="175.4" cy="58" r="0.9" fill="#dbe8f6" stroke="#a8c4e4" stroke-width="0.3"/><circle cx="177.4" cy="56.2" r="0.9" fill="#dbe8f6" stroke="#a8c4e4" stroke-width="0.3"/><circle cx="179.6" cy="57.6" r="0.9" fill="#dbe8f6" stroke="#a8c4e4" stroke-width="0.3"/><circle cx="181.6" cy="55.2" r="0.9" fill="#dbe8f6" stroke="#a8c4e4" stroke-width="0.3"/><circle cx="183.4" cy="56.4" r="0.9" fill="#dbe8f6" stroke="#a8c4e4" stroke-width="0.3"/><circle cx="161.5" cy="65.5" r="0.9" fill="#dbe8f6" stroke="#a8c4e4" stroke-width="0.3"/><circle cx="163.5" cy="67" r="0.9" fill="#dbe8f6" stroke="#a8c4e4" stroke-width="0.3"/><circle cx="169.5" cy="66.5" r="0.9" fill="#dbe8f6" stroke="#a8c4e4" stroke-width="0.3"/><circle cx="171.2" cy="68.5" r="0.9" fill="#dbe8f6" stroke="#a8c4e4" stroke-width="0.3"/><circle cx="178.5" cy="63.5" r="0.9" fill="#dbe8f6" stroke="#a8c4e4" stroke-width="0.3"/><circle cx="180" cy="65.5" r="0.9" fill="#dbe8f6" stroke="#a8c4e4" stroke-width="0.3"/><circle cx="157.6" cy="60.8" r="0.9" fill="#dbe8f6" stroke="#a8c4e4" stroke-width="0.3"/><circle cx="174.4" cy="55.9" r="0.9" fill="#dbe8f6" stroke="#a8c4e4" stroke-width="0.3"/><circle cx="165" cy="56.3" r="0.9" fill="#dbe8f6" stroke="#a8c4e4" stroke-width="0.3"/><path d="M148.4,66.6L148.9,66.7 149.6,66.7 150.4,66.8 151.3,66.9 152.2,67 153,67 153.8,67 154.6,67 155.4,66.9 156.2,66.8 156.8,66.6 157.3,66.2 157.6,65.7 157.9,65 158,64.3 158.1,63.4 158,62.6 157.8,61.8 157.4,60.9 156.7,60 155.9,59 155.2,58.1 154.6,57.4 154.4,57 154.5,56.9 154.9,57 155.4,57.3 156,57.7 156.8,58.2 157.5,58.6 158.3,59.1 159.1,59.6 160,60.2 161,60.9 162,61.4 163,61.8 164.1,62.1 165.2,62.4 166.4,62.6 167.6,62.7 168.8,62.7 170,62.6 171.3,62.3 172.6,62 174,61.5 175.4,60.9 176.6,60.3 177.7,59.8 178.6,59.3 179.3,58.7 180,58.1 180.6,57.5 181.3,56.9 182,56.3 182.9,55.6 183.8,54.9 184.8,54.1 185.8,53.4 186.6,52.9 187.3,52.7 187.8,52.8 188.2,53.3 188.4,53.9 188.6,54.6 188.8,55.3 189,56 189.2,56.7 189.3,57.5 189.5,58.4 189.6,59.2 189.9,59.9 190.2,60.3 190.7,60.5 191.4,60.4 192.1,60.2 192.8,60 193.4,59.7 193.8,59.6" fill="none" stroke="#8a5a3c" stroke-width="1.2" stroke-linecap="round"/><ellipse cx="163.1" cy="62" rx="1.1" ry="1.5" fill="#5a1030"/><ellipse cx="169.8" cy="62.6" rx="1.1" ry="1.5" fill="#5a1030"/><ellipse cx="177.7" cy="59.8" rx="1.1" ry="1.5" fill="#5a1030"/><path d="M172.6,24.7V31" stroke="#222" stroke-width="0.6"/><path d="M171.1,30.6H174.1L172.6,33.4Z" fill="#222"/><path d="M181.5,63.3V70.5" stroke="#222" stroke-width="0.6"/><path d="M180,70.1H183L181.5,72.9Z" fill="#222"/><path d="M177.4,24.7L177.4,24.9 177.3,25.2 177.2,25.6 177.2,26 177.4,26.4 177.7,26.8 178.3,27.2 179.3,27.6 180.4,28 181.4,28.4 182.2,28.8 182.6,29.1 182.5,29.4 182,29.6 181.3,29.7 180.5,29.9 179.7,30 179,30.2 178.3,30.3 177.5,30.4 176.7,30.5 176,30.6 175.5,30.8 175.2,31 175.3,31.3 175.7,31.7 176.2,32.2 176.8,32.6 177.4,33 177.7,33.3" fill="none" stroke="#f0305e" stroke-width="1.1" stroke-linejoin="round" stroke-linecap="round"/><path d="M186.9,64.4L186.9,64.6 186.8,64.9 186.8,65.3 186.8,65.7 186.9,66.1 187.2,66.5 187.8,66.9 188.7,67.2 189.7,67.6 190.7,68 191.5,68.3 191.8,68.6 191.7,68.8 191.2,69 190.5,69.2 189.7,69.3 188.9,69.5 188.2,69.6 187.5,69.7 186.8,69.8 186,69.9 185.3,70 184.8,70.1 184.6,70.3 184.7,70.6 185.1,71 185.7,71.4 186.3,71.9 186.8,72.2 187.2,72.5" fill="none" stroke="#f0305e" stroke-width="1.1" stroke-linejoin="round" stroke-linecap="round"/></g>
<g id="pb"><rect x="8.3" y="173.5" width="276" height="143.2" fill="#fff" stroke="#555" stroke-width="1.1"/><text x="12.4" y="185.8" font-size="10" fill="#4a4a4a" stroke="#4a4a4a" stroke-width="0.28">b</text><path d="M55.5,199.6H127.6L181.3,243.3" fill="none" stroke="#6e6e6e" stroke-width="0.8"/><path d="M55.5,217.4H127.6L181.3,243.3" fill="none" stroke="#6e6e6e" stroke-width="0.8"/><path d="M55.5,235H127.6L181.3,243.3" fill="none" stroke="#6e6e6e" stroke-width="0.8"/><path d="M55.5,252.5H127.6L181.3,243.3" fill="none" stroke="#6e6e6e" stroke-width="0.8"/><path d="M55.5,270.1H127.6L181.3,243.3" fill="none" stroke="#6e6e6e" stroke-width="0.8"/><path d="M55.5,288.7H127.6L181.3,243.3" fill="none" stroke="#6e6e6e" stroke-width="0.8"/><path d="M130.8,202.2L134.9,197L135.9,206.4L152.8,220.1" fill="none" stroke="#e030a0" stroke-width="0.9" stroke-linejoin="round"/><text x="15" y="202" font-size="7.5" textLength="26.6" lengthAdjust="spacingAndGlyphs" fill="#555" stroke="#555" stroke-width="0.12">Neuron 1</text><circle cx="50.3" cy="199.6" r="5.6" fill="#d6158a" stroke="#000" stroke-opacity="0.35" stroke-width="0.5"/><path d="M47.6,200.9h1.4l0.8,-4.4l0.6,5.8l0.8,-1.2h1.6" fill="none" stroke="#fff" stroke-opacity="0.8" stroke-width="0.6" stroke-linejoin="round" stroke-linecap="round"/><rect x="56.8" y="192.8" width="1.5" height="6.9" fill="#d6158a"/><circle cx="127.6" cy="199.6" r="2" fill="#111"/><text x="124.8" y="194.7" font-size="7.8" font-style="italic" fill="#5c5c5c" stroke="none">w<tspan font-size="5.2" dy="1.3" font-style="normal">1</tspan></text><text x="15" y="219.8" font-size="7.5" textLength="26.6" lengthAdjust="spacingAndGlyphs" fill="#555" stroke="#555" stroke-width="0.12">Neuron 2</text><circle cx="50.3" cy="217.4" r="5.6" fill="#2aa0b8" stroke="#000" stroke-opacity="0.35" stroke-width="0.5"/><path d="M47.6,218.7h1.4l0.8,-4.4l0.6,5.8l0.8,-1.2h1.6" fill="none" stroke="#fff" stroke-opacity="0.8" stroke-width="0.6" stroke-linejoin="round" stroke-linecap="round"/><rect x="99" y="210.6" width="1.5" height="6.9" fill="#2aa0b8"/><circle cx="127.6" cy="217.4" r="2" fill="#111"/><text x="124.8" y="212.5" font-size="7.8" font-style="italic" fill="#5c5c5c" stroke="none">w<tspan font-size="5.2" dy="1.3" font-style="normal">2</tspan></text><text x="15" y="237.4" font-size="7.5" textLength="26.6" lengthAdjust="spacingAndGlyphs" fill="#555" stroke="#555" stroke-width="0.12">Neuron 3</text><circle cx="50.3" cy="235" r="5.6" fill="#e8482a" stroke="#000" stroke-opacity="0.35" stroke-width="0.5"/><path d="M47.6,236.3h1.4l0.8,-4.4l0.6,5.8l0.8,-1.2h1.6" fill="none" stroke="#fff" stroke-opacity="0.8" stroke-width="0.6" stroke-linejoin="round" stroke-linecap="round"/><rect x="118.5" y="228.2" width="1.5" height="6.9" fill="#e8482a"/><circle cx="127.6" cy="235" r="2" fill="#111"/><text x="124.8" y="230.1" font-size="7.8" font-style="italic" fill="#5c5c5c" stroke="none">w<tspan font-size="5.2" dy="1.3" font-style="normal">3</tspan></text><text x="15" y="254.9" font-size="7.5" textLength="26.6" lengthAdjust="spacingAndGlyphs" fill="#555" stroke="#555" stroke-width="0.12">Neuron 4</text><circle cx="50.3" cy="252.5" r="5.6" fill="#6a2ca0" stroke="#000" stroke-opacity="0.35" stroke-width="0.5"/><path d="M47.6,253.8h1.4l0.8,-4.4l0.6,5.8l0.8,-1.2h1.6" fill="none" stroke="#fff" stroke-opacity="0.8" stroke-width="0.6" stroke-linejoin="round" stroke-linecap="round"/><rect x="121.5" y="245.7" width="1.5" height="6.9" fill="#6a2ca0"/><circle cx="127.6" cy="252.5" r="2" fill="#111"/><text x="124.8" y="247.6" font-size="7.8" font-style="italic" fill="#5c5c5c" stroke="none">w<tspan font-size="5.2" dy="1.3" font-style="normal">4</tspan></text><text x="15" y="272.5" font-size="7.5" textLength="26.6" lengthAdjust="spacingAndGlyphs" fill="#555" stroke="#555" stroke-width="0.12">Neuron 5</text><circle cx="50.3" cy="270.1" r="5.6" fill="#e0143c" stroke="#000" stroke-opacity="0.35" stroke-width="0.5"/><path d="M47.6,271.4h1.4l0.8,-4.4l0.6,5.8l0.8,-1.2h1.6" fill="none" stroke="#fff" stroke-opacity="0.8" stroke-width="0.6" stroke-linejoin="round" stroke-linecap="round"/><rect x="83" y="263.3" width="1.5" height="6.9" fill="#e0143c"/><circle cx="127.6" cy="270.1" r="2" fill="#111"/><text x="124.8" y="265.2" font-size="7.8" font-style="italic" fill="#5c5c5c" stroke="none">w<tspan font-size="5.2" dy="1.3" font-style="normal">5</tspan></text><text x="15" y="291.1" font-size="7.5" textLength="26.6" lengthAdjust="spacingAndGlyphs" fill="#555" stroke="#555" stroke-width="0.12">Neuron 6</text><circle cx="50.3" cy="288.7" r="5.6" fill="#18a050" stroke="#000" stroke-opacity="0.35" stroke-width="0.5"/><path d="M47.6,290h1.4l0.8,-4.4l0.6,5.8l0.8,-1.2h1.6" fill="none" stroke="#fff" stroke-opacity="0.8" stroke-width="0.6" stroke-linejoin="round" stroke-linecap="round"/><rect x="110.3" y="281.9" width="1.5" height="6.9" fill="#18a050"/><circle cx="127.6" cy="288.7" r="2" fill="#111"/><text x="124.8" y="283.8" font-size="7.8" font-style="italic" fill="#5c5c5c" stroke="none">w<tspan font-size="5.2" dy="1.3" font-style="normal">6</tspan></text><path d="M205,243.4H271.8" stroke="#6e6e6e" stroke-width="0.8"/><rect x="267.2" y="236.7" width="1.8" height="7" fill="#e0143c"/><path d="M193.6,254C194,259 192.5,264.8 188,264.8C183.5,264.8 182,259 181.8,252.6" fill="none" stroke="#222" stroke-width="0.6"/><path d="M181.8,250.2L180.5,253.2L183.1,253.2Z" fill="#222"/><circle cx="181.3" cy="243.2" r="7.6" fill="#f5920e" stroke="#6a3a08" stroke-width="0.5"/><text x="179" y="246.2" font-size="7.4" text-anchor="middle" fill="#6a400c" stroke="#6a400c" stroke-width="0.28">Σ</text><circle cx="193.9" cy="243.4" r="11.9" fill="#d81e3c" stroke="#5a0a18" stroke-width="0.5"/><text x="193.6" y="246" font-size="12" font-style="italic" text-anchor="middle" fill="#fff">f<tspan font-size="8.4" dy="1.8">s</tspan></text><path d="M180.1,279.4C180.3,275 180.5,272.4 182,271.2C183.6,270.2 187,270.1 195,269.9" fill="none" stroke="#f5a040" stroke-width="1"/><text x="157.3" y="286.9" font-size="7.8" textLength="60" lengthAdjust="spacingAndGlyphs" fill="#444" stroke="#444" stroke-width="0.28">refractory kernel</text><text x="16.2" y="307.6" font-size="8.6" textLength="67.3" lengthAdjust="spacingAndGlyphs" fill="#444" stroke="#444" stroke-width="0.28">Presynaptic neuron</text><text x="111.6" y="307.6" font-size="8.6" textLength="32.4" lengthAdjust="spacingAndGlyphs" fill="#444" stroke="#444" stroke-width="0.28">Synapse</text><text x="154.5" y="307.6" font-size="8.6" textLength="80.5" lengthAdjust="spacingAndGlyphs" fill="#444" stroke="#444" stroke-width="0.28">Postsynaptic neuron</text></g>
<g id="pc"><rect x="288.4" y="7.5" width="252.9" height="309.2" fill="#fff" stroke="#555" stroke-width="1.1"/><text x="291.8" y="18.8" font-size="10.4" fill="#4a4a4a" stroke="#4a4a4a" stroke-width="0.28">c</text><path d="M319.8,14V60" stroke="#a2a2a2" stroke-width="1.2"/><path d="M319.8,12l-1.5,3.2h3Z" fill="#222"/><path d="M318.4,53.5h1.4" stroke="#a2a2a2" stroke-width="0.6"/><text transform="translate(317.2 53.5) rotate(-90)" font-size="5" text-anchor="middle" fill="#5e5e5e" stroke="none">1</text><path d="M318.4,46.4h1.4" stroke="#a2a2a2" stroke-width="0.6"/><text transform="translate(317.2 46.4) rotate(-90)" font-size="5" text-anchor="middle" fill="#5e5e5e" stroke="none">2</text><path d="M318.4,39.3h1.4" stroke="#a2a2a2" stroke-width="0.6"/><text transform="translate(317.2 39.3) rotate(-90)" font-size="5" text-anchor="middle" fill="#5e5e5e" stroke="none">3</text><path d="M318.4,32.3h1.4" stroke="#a2a2a2" stroke-width="0.6"/><text transform="translate(317.2 32.3) rotate(-90)" font-size="5" text-anchor="middle" fill="#5e5e5e" stroke="none">4</text><path d="M318.4,25.2h1.4" stroke="#a2a2a2" stroke-width="0.6"/><text transform="translate(317.2 25.2) rotate(-90)" font-size="5" text-anchor="middle" fill="#5e5e5e" stroke="none">5</text><path d="M318.4,18.1h1.4" stroke="#a2a2a2" stroke-width="0.6"/><text transform="translate(317.2 18.1) rotate(-90)" font-size="5" text-anchor="middle" fill="#5e5e5e" stroke="none">6</text><text transform="translate(304.4 36.8) rotate(-90)" font-size="8.6" text-anchor="middle" textLength="51.5" lengthAdjust="spacingAndGlyphs" fill="#444" stroke="#444" stroke-width="0.14">Neuron index</text><rect x="335.8" y="50" width="3.2" height="7" rx="0.5" fill="#e6149a"/><rect x="424" y="42.9" width="3.2" height="7" rx="0.5" fill="#16a8c4"/><rect x="464.1" y="35.8" width="3.2" height="7" rx="0.5" fill="#f04a22"/><rect x="472.2" y="28.8" width="3.2" height="7" rx="0.5" fill="#6830a8"/><rect x="392" y="21.7" width="3.2" height="7" rx="0.5" fill="#e6143c"/><rect x="448.1" y="14.6" width="3.2" height="7" rx="0.5" fill="#20b060"/><path d="M320.3,68V175.5" stroke="#a2a2a2" stroke-width="1.3"/><path d="M320.3,66l-1.5,3.2h3Z" fill="#222"/><path d="M318.6,72.1h1.4" stroke="#a2a2a2" stroke-width="0.6"/><text x="317.4" y="73.6" font-size="5.4" text-anchor="end" fill="#5e5e5e" stroke="none">0.8</text><path d="M318.6,88.4h1.4" stroke="#a2a2a2" stroke-width="0.6"/><text x="317.4" y="89.9" font-size="5.4" text-anchor="end" fill="#5e5e5e" stroke="none">0.6</text><path d="M318.6,104.8h1.4" stroke="#a2a2a2" stroke-width="0.6"/><text x="317.4" y="106.3" font-size="5.4" text-anchor="end" fill="#5e5e5e" stroke="none">0.4</text><path d="M318.6,121.1h1.4" stroke="#a2a2a2" stroke-width="0.6"/><text x="317.4" y="122.6" font-size="5.4" text-anchor="end" fill="#5e5e5e" stroke="none">0.2</text><path d="M318.6,137.4h1.4" stroke="#a2a2a2" stroke-width="0.6"/><text x="317.4" y="138.9" font-size="5.4" text-anchor="end" fill="#5e5e5e" stroke="none">0.0</text><path d="M318.6,153.7h1.4" stroke="#a2a2a2" stroke-width="0.6"/><text x="317.4" y="155.2" font-size="5.4" text-anchor="end" fill="#5e5e5e" stroke="none">−0.2</text><path d="M318.6,170h1.4" stroke="#a2a2a2" stroke-width="0.6"/><text x="317.4" y="171.5" font-size="5.4" text-anchor="end" fill="#5e5e5e" stroke="none">−0.4</text><path d="M329.2,137.8H529.8" stroke="#777" stroke-width="0.8"/><rect x="335.5" y="113.3" width="3.8" height="24.5" fill="#e6149a"/><rect x="423.7" y="94.6" width="3.8" height="43.2" fill="#16a8c4"/><rect x="463.8" y="97" width="3.8" height="40.8" fill="#f04a22"/><rect x="471.9" y="72.5" width="3.8" height="65.3" fill="#6830a8"/><rect x="391.7" y="137.8" width="3.8" height="32.6" fill="#e6143c"/><rect x="447.8" y="80.7" width="3.8" height="57.1" fill="#20b060"/><text transform="translate(304.7 121) rotate(-90)" font-size="8.6" text-anchor="middle" textLength="62.5" lengthAdjust="spacingAndGlyphs" fill="#444" stroke="#444" stroke-width="0.14">Synaptic weight</text><path d="M320,187V296.4H537" fill="none" stroke="#a2a2a2" stroke-width="1.3"/><path d="M320,185l-1.5,3.2h3Z" fill="#222"/><path d="M539.6,296.4l-3.2,-1.5v3Z" fill="#222"/><path d="M318.3,194.4h1.4" stroke="#a2a2a2" stroke-width="0.6"/><text x="317" y="195.9" font-size="5.4" text-anchor="end" fill="#5e5e5e" stroke="none">0.5</text><path d="M318.3,208.3h1.4" stroke="#a2a2a2" stroke-width="0.6"/><text x="317" y="209.8" font-size="5.4" text-anchor="end" fill="#5e5e5e" stroke="none">0.4</text><path d="M318.3,222.1h1.4" stroke="#a2a2a2" stroke-width="0.6"/><text x="317" y="223.6" font-size="5.4" text-anchor="end" fill="#5e5e5e" stroke="none">0.3</text><path d="M318.3,236h1.4" stroke="#a2a2a2" stroke-width="0.6"/><text x="317" y="237.5" font-size="5.4" text-anchor="end" fill="#5e5e5e" stroke="none">0.2</text><path d="M318.3,249.8h1.4" stroke="#a2a2a2" stroke-width="0.6"/><text x="317" y="251.3" font-size="5.4" text-anchor="end" fill="#5e5e5e" stroke="none">0.1</text><path d="M318.3,263.7h1.4" stroke="#a2a2a2" stroke-width="0.6"/><text x="317" y="265.2" font-size="5.4" text-anchor="end" fill="#5e5e5e" stroke="none">0.0</text><path d="M318.3,277.6h1.4" stroke="#a2a2a2" stroke-width="0.6"/><text x="317" y="279.1" font-size="5.4" text-anchor="end" fill="#5e5e5e" stroke="none">−0.1</text><path d="M318.3,291.4h1.4" stroke="#a2a2a2" stroke-width="0.6"/><text x="317" y="292.9" font-size="5.4" text-anchor="end" fill="#5e5e5e" stroke="none">−0.2</text><path d="M329.3,296.4v1.6" stroke="#a2a2a2" stroke-width="0.6"/><text x="329.3" y="302.6" font-size="5.4" text-anchor="middle" fill="#5e5e5e" stroke="none">0</text><path d="M369.4,296.4v1.6" stroke="#a2a2a2" stroke-width="0.6"/><text x="369.4" y="302.6" font-size="5.4" text-anchor="middle" fill="#5e5e5e" stroke="none">5</text><path d="M409.5,296.4v1.6" stroke="#a2a2a2" stroke-width="0.6"/><text x="409.5" y="302.6" font-size="5.4" text-anchor="middle" fill="#5e5e5e" stroke="none">10</text><path d="M449.6,296.4v1.6" stroke="#a2a2a2" stroke-width="0.6"/><text x="449.6" y="302.6" font-size="5.4" text-anchor="middle" fill="#5e5e5e" stroke="none">15</text><path d="M489.7,296.4v1.6" stroke="#a2a2a2" stroke-width="0.6"/><text x="489.7" y="302.6" font-size="5.4" text-anchor="middle" fill="#5e5e5e" stroke="none">20</text><path d="M529.8,296.4v1.6" stroke="#a2a2a2" stroke-width="0.6"/><text x="529.8" y="302.6" font-size="5.4" text-anchor="middle" fill="#5e5e5e" stroke="none">25</text><path d="M329.3,194.4H529.8" stroke="#38bcdc" stroke-width="0.9" stroke-dasharray="1.6 1.1"/><path d="M329.9,263.6L330.8,263.6 332.2,263.7 333.7,263.7 335.3,263.7 336.6,263.7 337.6,263.6 338.1,263.4 338.3,263.2 338.3,263 338.2,262.7 338.2,262.4 338.2,262 338.3,261.6 338.4,261.3 338.5,260.8 338.6,260.4 338.8,259.8 339,259 339.3,258 339.7,256.8 340,255.5 340.5,254.1 340.9,252.9 341.3,251.9 341.7,251.1 342.1,250.5 342.5,249.9 342.9,249.4 343.3,249 343.7,248.7 344.1,248.4 344.5,248.2 344.8,248.1 345.2,248 345.6,248 346.1,248 346.6,248.1 347.1,248.2 347.7,248.4 348.3,248.7 348.9,249.1 349.7,249.5 350.5,250.1 351.5,250.7 352.5,251.5 353.5,252.3 354.6,253.1 355.7,253.8 356.8,254.5 358,255.2 359.2,255.9 360.5,256.6 361.7,257.2 362.9,257.8 364.1,258.4 365.2,258.9 366.4,259.4 367.5,259.8 368.8,260.3 370.1,260.7 371.6,261.1 373.1,261.4 374.8,261.8 376.4,262.1 378.1,262.4 379.7,262.6 381.3,262.8 383,263 384.7,263.1 386.3,263.2 387.8,263.3 389,263.4 390,263.5 390.9,263.5 391.6,263.6 392.2,263.6 392.6,263.7 393,263.7M393,263.7L393.1,264 393.2,264.5 393.4,265 393.6,265.7 393.8,266.5 394,267.4 394.3,268.6 394.6,269.9 394.9,271.5 395.3,273 395.6,274.5 396,275.8 396.4,277 396.8,278.1 397.2,279.2 397.6,280.2 398,281.1 398.4,281.8 398.8,282.4 399.3,282.9 399.7,283.2 400.2,283.4 400.7,283.6 401.2,283.7 401.7,283.7 402.3,283.7 402.8,283.5 403.4,283.3 404.1,282.9 404.8,282.5 405.6,281.9 406.6,281.2 407.6,280.4 408.6,279.5 409.7,278.6 410.8,277.7 411.9,276.7 413.1,275.7 414.3,274.7 415.5,273.6 416.8,272.6 418,271.7 419.3,270.9 420.7,270 422.1,269.3 423.5,268.6 424.6,268 425.4,267.6M425.4,267.6L425.5,266.4 425.6,264.7 425.7,262.7 425.8,260.6 426,258.5 426.2,256.6 426.4,254.9 426.7,253.2 426.9,251.5 427.2,250 427.6,248.5 427.9,247.1 428.2,245.9 428.6,244.7 429,243.6 429.4,242.7 429.8,241.8 430.3,241.1 430.8,240.5 431.5,240 432.1,239.7 432.8,239.4 433.4,239.2 434.1,239.2 434.8,239.3 435.4,239.4 436.1,239.7 436.8,240.1 437.5,240.5 438.2,241.1 438.9,241.8 439.7,242.6 440.5,243.5 441.3,244.5 442.1,245.6 443,246.6 444,247.7 445.1,249 446.3,250.3 447.4,251.5 448.3,252.6 449,253.3M449,253.3L449.1,252.8 449.2,252.2 449.3,251.5 449.4,250.6 449.5,249.5 449.7,248.3 449.9,246.8 450,245 450.2,243.1 450.5,241.1 450.7,239.2 450.9,237.5 451.1,235.9 451.4,234.4 451.6,233 451.9,231.6 452.2,230.3 452.5,229.1 452.9,228 453.2,227 453.6,226 454.1,225.1 454.5,224.4 454.9,223.8 455.3,223.3 455.7,223 456.1,222.8 456.5,222.6 456.9,222.6 457.3,222.6 457.7,222.7 458.1,222.8 458.5,223.1 458.8,223.4 459.3,223.8 459.7,224.3 460.2,224.9 460.7,225.6 461.2,226.4 461.8,227.3 462.3,228.2 462.8,229.1 463.3,230.1 463.8,231.2 464.3,232.3 464.7,233.4 465.1,234.3 465.4,235M465.4,235L465.5,234.4 465.6,233.5 465.7,232.4 465.9,231.3 466,230.1 466.2,229.1 466.4,228.1 466.6,227.2 466.8,226.2 467.1,225.3 467.3,224.4 467.6,223.6 467.9,222.9 468.3,222.2 468.7,221.5 469.1,221 469.4,220.5 469.8,220.2 470.1,220 470.5,220 470.8,220.1 471.1,220.3 471.4,220.5 471.7,220.7 472,221 472.4,221.4 472.7,221.8 473,222.2 473.3,222.6 473.5,222.8M473.5,222.8L473.6,222.1 473.8,221.2 474,220.1 474.2,218.8 474.4,217.4 474.6,215.9 474.8,214.2 475,212.2 475.2,210 475.4,207.9 475.6,205.8 475.8,204 476,202.3 476.3,200.7 476.5,199.1 476.8,197.7 477,196.5 477.2,195.6 477.4,195 477.6,194.6 477.8,194.5 478,194.4 478.1,194.4 478.2,194.4" fill="none" stroke="#f2583a" stroke-width="1.1" stroke-linejoin="round"/><path d="M478.3,194.4V291.4" stroke="#ea2450" stroke-width="1.1"/><path d="M478.4,291.4L478.4,290.8 478.5,290.2 478.6,289.3 478.7,288.2 478.8,287 478.9,285.4 479.1,283.5 479.2,281.2 479.4,278.7 479.6,276.1 479.9,273.5 480.1,271 480.4,268.5 480.6,266 480.9,263.4 481.3,260.9 481.6,258.6 482,256.6 482.4,254.8 482.9,253.2 483.4,251.8 483.9,250.5 484.4,249.3 484.9,248.3 485.4,247.4 485.9,246.6 486.3,246 486.8,245.5 487.3,245.1 487.8,244.7 488.3,244.4 488.8,244.2 489.3,244.1 489.8,244.1 490.4,244.1 490.9,244.2 491.4,244.3 491.9,244.5 492.4,244.8 493,245.1 493.7,245.5 494.5,246.1 495.5,246.9 496.6,247.8 497.8,248.8 499.1,249.9 500.4,251 501.6,251.9 502.8,252.8 503.9,253.6 505,254.4 506.2,255.1 507.5,255.9 508.8,256.6 510.2,257.3 511.8,258.1 513.4,258.8 515,259.5 516.7,260.2 518.4,260.7 520.3,261.2 522.3,261.6 524.4,261.9 526.4,262.2 528,262.4 529.2,262.6" fill="none" stroke="#f2583a" stroke-width="1.1" stroke-linejoin="round"/><text x="333.5" y="191.7" font-size="9" textLength="38.8" lengthAdjust="spacingAndGlyphs" fill="#444" stroke="#444" stroke-width="0.28">Threshold</text><text x="481.4" y="207.6" font-size="8.6" textLength="22.4" lengthAdjust="spacingAndGlyphs" fill="#444" stroke="#444" stroke-width="0.28">Firing</text><text x="411.2" y="313.6" font-size="8.5" textLength="37.8" lengthAdjust="spacingAndGlyphs" fill="#444" stroke="#444" stroke-width="0.28">Time [ms]</text><text transform="translate(305 240.8) rotate(-90)" font-size="8.6" text-anchor="middle" textLength="79" lengthAdjust="spacingAndGlyphs" fill="#444" stroke="#444" stroke-width="0.14">Membrane potential</text></g>
<g id="pd"><rect x="8.3" y="320.6" width="533" height="172.5" fill="#fff" stroke="#555" stroke-width="1.1"/><text x="12.4" y="333.8" font-size="10" fill="#4a4a4a" stroke="#4a4a4a" stroke-width="0.28">d</text><text x="265.7" y="329.5" font-size="8" textLength="49" lengthAdjust="spacingAndGlyphs" fill="#4f6fd4" stroke="#4f6fd4" stroke-width="0.12">Forward pass</text><path d="M241.6,334.6H327" stroke="#8ca2e6" stroke-width="1"/><path d="M329.6,334.6l-3.2,-1.4v2.8Z" fill="#3a58c8"/><path d="M241.6,351.4H329.2" stroke="#7a7a7a" stroke-width="0.9"/><circle cx="277" cy="351.3" r="7.7" fill="#f5920e" stroke="#6a3a08" stroke-width="0.5"/><text x="274.7" y="354.4" font-size="7.5" text-anchor="middle" fill="#6a400c" stroke="#6a400c" stroke-width="0.28">Σ</text><circle cx="289.8" cy="351.5" r="11.9" fill="#d81e3c" stroke="#5a0a18" stroke-width="0.5"/><text x="289.5" y="354.1" font-size="12" font-style="italic" text-anchor="middle" fill="#fff">f<tspan font-size="8.4" dy="1.8">s</tspan></text><path d="M244,368.1H329.2" stroke="#f590a6" stroke-width="1.1"/><path d="M241.2,368.1l3.2,-1.4v2.8Z" fill="#e8204a"/><text x="263.8" y="376.1" font-size="8" textLength="54.2" lengthAdjust="spacingAndGlyphs" fill="#ea2c54" stroke="#ea2c54" stroke-width="0.12">Backward pass</text><text x="156.4" y="353" font-size="8.1" font-weight="bold" textLength="76.8" lengthAdjust="spacingAndGlyphs" fill="#4a4a4a" stroke="none">Presynaptic neuron</text><text x="336.6" y="353" font-size="8.1" textLength="80.4" lengthAdjust="spacingAndGlyphs" fill="#3a3a3a" stroke="#3a3a3a" stroke-width="0.28">Postsynaptic neuron</text><rect x="100.4" y="393.4" width="153.9" height="75.3" fill="none" stroke="#9c9c9c" stroke-width="0.8"/><path d="M99.7,464.8h1" stroke="#9c9c9c" stroke-width="0.5"/><text x="98.2" y="466.3" font-size="5.3" text-anchor="end" fill="#646464" stroke="none">0.0</text><path d="M99.7,451.2h1" stroke="#9c9c9c" stroke-width="0.5"/><text x="98.2" y="452.7" font-size="5.3" text-anchor="end" fill="#646464" stroke="none">0.2</text><path d="M99.7,437.6h1" stroke="#9c9c9c" stroke-width="0.5"/><text x="98.2" y="439.1" font-size="5.3" text-anchor="end" fill="#646464" stroke="none">0.4</text><path d="M99.7,423.9h1" stroke="#9c9c9c" stroke-width="0.5"/><text x="98.2" y="425.4" font-size="5.3" text-anchor="end" fill="#646464" stroke="none">0.6</text><path d="M99.7,410.3h1" stroke="#9c9c9c" stroke-width="0.5"/><text x="98.2" y="411.8" font-size="5.3" text-anchor="end" fill="#646464" stroke="none">0.8</text><path d="M99.7,396.7h1" stroke="#9c9c9c" stroke-width="0.5"/><text x="98.2" y="398.2" font-size="5.3" text-anchor="end" fill="#646464" stroke="none">1.0</text><path d="M108.1,468.7v1.2" stroke="#9c9c9c" stroke-width="0.5"/><text x="108.1" y="474.2" font-size="5.3" text-anchor="middle" fill="#646464" stroke="none">−5</text><path d="M120.7,468.7v1.2" stroke="#9c9c9c" stroke-width="0.5"/><text x="120.7" y="474.2" font-size="5.3" text-anchor="middle" fill="#646464" stroke="none">−4</text><path d="M133.4,468.7v1.2" stroke="#9c9c9c" stroke-width="0.5"/><text x="133.4" y="474.2" font-size="5.3" text-anchor="middle" fill="#646464" stroke="none">−3</text><path d="M146,468.7v1.2" stroke="#9c9c9c" stroke-width="0.5"/><text x="146" y="474.2" font-size="5.3" text-anchor="middle" fill="#646464" stroke="none">−2</text><path d="M158.7,468.7v1.2" stroke="#9c9c9c" stroke-width="0.5"/><text x="158.7" y="474.2" font-size="5.3" text-anchor="middle" fill="#646464" stroke="none">−1</text><path d="M171.3,468.7v1.2" stroke="#9c9c9c" stroke-width="0.5"/><text x="171.3" y="474.2" font-size="5.3" text-anchor="middle" fill="#646464" stroke="none">0</text><path d="M184,468.7v1.2" stroke="#9c9c9c" stroke-width="0.5"/><text x="184" y="474.2" font-size="5.3" text-anchor="middle" fill="#646464" stroke="none">1</text><path d="M196.6,468.7v1.2" stroke="#9c9c9c" stroke-width="0.5"/><text x="196.6" y="474.2" font-size="5.3" text-anchor="middle" fill="#646464" stroke="none">2</text><path d="M209.2,468.7v1.2" stroke="#9c9c9c" stroke-width="0.5"/><text x="209.2" y="474.2" font-size="5.3" text-anchor="middle" fill="#646464" stroke="none">3</text><path d="M221.9,468.7v1.2" stroke="#9c9c9c" stroke-width="0.5"/><text x="221.9" y="474.2" font-size="5.3" text-anchor="middle" fill="#646464" stroke="none">4</text><path d="M234.6,468.7v1.2" stroke="#9c9c9c" stroke-width="0.5"/><text x="234.6" y="474.2" font-size="5.3" text-anchor="middle" fill="#646464" stroke="none">5</text><path d="M247.2,468.7v1.2" stroke="#9c9c9c" stroke-width="0.5"/><text x="247.2" y="474.2" font-size="5.3" text-anchor="middle" fill="#646464" stroke="none">6</text><path d="M108.1,464.8L109.3,464.8 110.6,464.8 111.8,464.8 113.1,464.8 114.4,464.8 115.6,464.8 116.9,464.8 118.2,464.8 119.4,464.8 120.7,464.8 122,464.8 123.2,464.8 124.5,464.8 125.8,464.8 127,464.8 128.3,464.8 129.6,464.8 130.8,464.8 132.1,464.8 133.4,464.8 134.6,464.8 135.9,464.8 137.1,464.8 138.4,464.8 139.7,464.8 140.9,464.8 142.2,464.8 143.5,464.8 144.7,464.7 146,464.7 147.3,464.7 148.5,464.7 149.8,464.7 151.1,464.6 152.3,464.6 153.6,464.6 154.9,464.5 156.1,464.4 157.4,464.4 158.7,464.3 159.9,464.1 161.2,464 162.4,463.8 163.7,463.5 165,463.2 166.2,462.9 167.5,462.4 168.8,461.9 170,461.2 171.3,460.4 172.6,459.3 173.8,458 175.1,456.5 176.4,454.5 177.6,452.1 178.9,449.1 180.2,445.5 181.4,441 182.7,435.4 184,428.7 185.2,422.6 186.5,417.7 187.7,413.7 189,410.5 190.3,407.9 191.5,405.8 192.8,404.1 194.1,402.7 195.3,401.5 196.6,400.6 197.9,399.9 199.1,399.3 200.4,398.8 201.7,398.4 202.9,398.1 204.2,397.8 205.5,397.6 206.7,397.4 208,397.3 209.2,397.2 210.5,397.1 211.8,397 213,397 214.3,396.9 215.6,396.9 216.8,396.8 218.1,396.8 219.4,396.8 220.6,396.8 221.9,396.8 223.2,396.7 224.4,396.7 225.7,396.7 227,396.7 228.2,396.7 229.5,396.7 230.8,396.7 232,396.7 233.3,396.7 234.6,396.7 235.8,396.7 237.1,396.7 238.3,396.7 239.6,396.7 240.9,396.7 242.1,396.7 243.4,396.7 244.7,396.7 245.9,396.7 247.2,396.7" fill="none" stroke="#5b7fd6" stroke-width="0.9"/><path d="M103.6,400H109.2" stroke="#5b7fd6" stroke-width="1.1"/><text x="110.9" y="401.9" font-size="6" textLength="23.4" lengthAdjust="spacingAndGlyphs" fill="#555" stroke="#555" stroke-width="0.18">SLAYER</text><text x="153.9" y="388.9" font-size="8" textLength="49.6" lengthAdjust="spacingAndGlyphs" fill="#4f6fd4" stroke="#4f6fd4" stroke-width="0.12">Forward pass</text><text transform="translate(76.8 433.2) rotate(-90)" font-size="7.5" text-anchor="middle" textLength="78.6" lengthAdjust="spacingAndGlyphs" fill="#444" stroke="#444" stroke-width="0.14">Cumulative distribution</text><text transform="translate(88.2 434.3) rotate(-90)" font-size="7.5" text-anchor="middle" textLength="24.7" lengthAdjust="spacingAndGlyphs" fill="#444" stroke="#444" stroke-width="0.14">function</text><text x="126.2" y="485.8" font-size="7.3" fill="#444" textLength="65.8" lengthAdjust="spacingAndGlyphs" stroke="#444" stroke-width="0.28">Membrane potential</text><text x="196.3" y="485.8" font-size="7.6" fill="#444" textLength="30.6" lengthAdjust="spacingAndGlyphs" stroke="#444" stroke-width="0.28"><tspan font-style="italic">u</tspan><tspan font-size="5.2" dy="-3">(<tspan font-style="italic">l</tspan>)</tspan><tspan dy="3">(<tspan font-style="italic">t</tspan>) − <tspan font-style="italic">θ</tspan></tspan></text><rect x="348.2" y="393.4" width="153.7" height="75.3" fill="none" stroke="#9c9c9c" stroke-width="0.8"/><path d="M347.7,464.8h1" stroke="#9c9c9c" stroke-width="0.5"/><text x="346" y="466.3" font-size="5.3" text-anchor="end" fill="#646464" stroke="none">0.0</text><path d="M347.7,451.1h1" stroke="#9c9c9c" stroke-width="0.5"/><text x="346" y="452.6" font-size="5.3" text-anchor="end" fill="#646464" stroke="none">0.2</text><path d="M347.7,437.4h1" stroke="#9c9c9c" stroke-width="0.5"/><text x="346" y="438.9" font-size="5.3" text-anchor="end" fill="#646464" stroke="none">0.4</text><path d="M347.7,423.7h1" stroke="#9c9c9c" stroke-width="0.5"/><text x="346" y="425.2" font-size="5.3" text-anchor="end" fill="#646464" stroke="none">0.6</text><path d="M347.7,410h1" stroke="#9c9c9c" stroke-width="0.5"/><text x="346" y="411.5" font-size="5.3" text-anchor="end" fill="#646464" stroke="none">0.8</text><path d="M347.7,396.3h1" stroke="#9c9c9c" stroke-width="0.5"/><text x="346" y="397.8" font-size="5.3" text-anchor="end" fill="#646464" stroke="none">1.0</text><path d="M348.7,468.7v1.2" stroke="#9c9c9c" stroke-width="0.5"/><text x="348.7" y="474.2" font-size="5.3" text-anchor="middle" fill="#646464" stroke="none">−3</text><path d="M367.9,468.7v1.2" stroke="#9c9c9c" stroke-width="0.5"/><text x="367.9" y="474.2" font-size="5.3" text-anchor="middle" fill="#646464" stroke="none">−2</text><path d="M387.1,468.7v1.2" stroke="#9c9c9c" stroke-width="0.5"/><text x="387.1" y="474.2" font-size="5.3" text-anchor="middle" fill="#646464" stroke="none">−1</text><path d="M406.3,468.7v1.2" stroke="#9c9c9c" stroke-width="0.5"/><text x="406.3" y="474.2" font-size="5.3" text-anchor="middle" fill="#646464" stroke="none">0</text><path d="M425.5,468.7v1.2" stroke="#9c9c9c" stroke-width="0.5"/><text x="425.5" y="474.2" font-size="5.3" text-anchor="middle" fill="#646464" stroke="none">1</text><path d="M444.7,468.7v1.2" stroke="#9c9c9c" stroke-width="0.5"/><text x="444.7" y="474.2" font-size="5.3" text-anchor="middle" fill="#646464" stroke="none">2</text><path d="M463.9,468.7v1.2" stroke="#9c9c9c" stroke-width="0.5"/><text x="463.9" y="474.2" font-size="5.3" text-anchor="middle" fill="#646464" stroke="none">3</text><path d="M483.1,468.7v1.2" stroke="#9c9c9c" stroke-width="0.5"/><text x="483.1" y="474.2" font-size="5.3" text-anchor="middle" fill="#646464" stroke="none">4</text><path d="M502.3,468.7v1.2" stroke="#9c9c9c" stroke-width="0.5"/><text x="502.3" y="474.2" font-size="5.3" text-anchor="middle" fill="#646464" stroke="none">5</text><path d="M348.7,464.8L349.7,464.8 350.6,464.8 351.6,464.8 352.5,464.8 353.5,464.8 354.5,464.8 355.4,464.8 356.4,464.8 357.3,464.8 358.3,464.7 359.3,464.7 360.2,464.7 361.2,464.7 362.1,464.7 363.1,464.7 364.1,464.7 365,464.7 366,464.7 366.9,464.7 367.9,464.7 368.9,464.6 369.8,464.6 370.8,464.6 371.7,464.6 372.7,464.6 373.7,464.5 374.6,464.5 375.6,464.5 376.5,464.4 377.5,464.4 378.5,464.3 379.4,464.3 380.4,464.2 381.3,464.2 382.3,464.1 383.3,464 384.2,464 385.2,463.9 386.1,463.8 387.1,463.7 388.1,463.5 389,463.4 390,463.3 390.9,463.1 391.9,462.9 392.9,462.7 393.8,462.5 394.8,462.2 395.7,461.9 396.7,461.6 397.7,461.3 398.6,460.9 399.6,460.5 400.5,460 401.5,459.5 402.5,458.9 403.4,458.3 404.4,457.6 405.3,456.8 406.3,456 407.3,455 408.2,454 409.2,452.8 410.1,451.5 411.1,450.1 412.1,448.5 413,446.7 414,444.8 414.9,442.6 415.9,440.2 416.9,437.6 417.8,434.6 418.8,431.4 419.7,427.8 420.7,423.8 421.7,419.3 422.6,414.4 423.6,409 424.5,403 425.5,396.3 426.5,403 427.4,409 428.4,414.4 429.3,419.3 430.3,423.8 431.3,427.8 432.2,431.4 433.2,434.6 434.1,437.6 435.1,440.2 436.1,442.6 437,444.8 438,446.7 438.9,448.5 439.9,450.1 440.9,451.5 441.8,452.8 442.8,454 443.7,455 444.7,456 445.7,456.8 446.6,457.6 447.6,458.3 448.5,458.9 449.5,459.5 450.5,460 451.4,460.5 452.4,460.9 453.3,461.3 454.3,461.6 455.3,461.9 456.2,462.2 457.2,462.5 458.1,462.7 459.1,462.9 460.1,463.1 461,463.3 462,463.4 462.9,463.5 463.9,463.7 464.9,463.8 465.8,463.9 466.8,464 467.7,464 468.7,464.1 469.7,464.2 470.6,464.2 471.6,464.3 472.5,464.3 473.5,464.4 474.5,464.4 475.4,464.5 476.4,464.5 477.3,464.5 478.3,464.6 479.3,464.6 480.2,464.6 481.2,464.6 482.1,464.6 483.1,464.7 484.1,464.7 485,464.7 486,464.7 486.9,464.7 487.9,464.7 488.9,464.7 489.8,464.7 490.8,464.7 491.7,464.7 492.7,464.7 493.7,464.8 494.6,464.8 495.6,464.8 496.5,464.8 497.5,464.8 498.5,464.8 499.4,464.8 500.4,464.8 501.3,464.8 502.3,464.8" fill="none" stroke="#5b7fd6" stroke-width="0.9" stroke-linejoin="round"/><path d="M351.1,399.5H357.1" stroke="#5b7fd6" stroke-width="1.1"/><text x="359.1" y="401.4" font-size="6" textLength="23" lengthAdjust="spacingAndGlyphs" fill="#555" stroke="#555" stroke-width="0.18">SLAYER</text><text x="397.8" y="388.9" font-size="8" textLength="55" lengthAdjust="spacingAndGlyphs" fill="#ea2c54" stroke="#ea2c54" stroke-width="0.12">Backward pass</text><text transform="translate(322.8 431.4) rotate(-90)" font-size="7.5" text-anchor="middle" textLength="79.8" lengthAdjust="spacingAndGlyphs" fill="#444" stroke="#444" stroke-width="0.14">Derivative aproximation</text><text transform="translate(336.4 431.6) rotate(-90)" font-size="6.6" font-style="italic" text-anchor="middle" textLength="19" lengthAdjust="spacingAndGlyphs" fill="#444" stroke="none">of  f<tspan font-size="4.8" dy="1.3">s</tspan></text><text x="374.9" y="485.8" font-size="7.3" fill="#444" textLength="65.8" lengthAdjust="spacingAndGlyphs" stroke="#444" stroke-width="0.28">Membrane potential</text><text x="445" y="485.8" font-size="7.6" fill="#444" textLength="30.6" lengthAdjust="spacingAndGlyphs" stroke="#444" stroke-width="0.28"><tspan font-style="italic">u</tspan><tspan font-size="5.2" dy="-3">(<tspan font-style="italic">l</tspan>)</tspan><tspan dy="3">(<tspan font-style="italic">t</tspan>) − <tspan font-style="italic">θ</tspan></tspan></text></g>
</svg>
</body></html>
